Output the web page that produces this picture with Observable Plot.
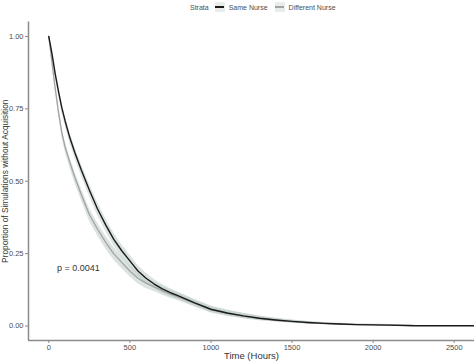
<!DOCTYPE html>
<html>
<head>
<meta charset="utf-8">
<script src="https://cdn.jsdelivr.net/npm/d3@7"></script>
<script src="https://cdn.jsdelivr.net/npm/@observablehq/plot@0.6"></script>
<style>
  body { margin: 0; background: #fff; font-family: "Liberation Sans", Arial, sans-serif; }
  #wrap { width: 474px; }
  #legend { height: 14px; display: flex; align-items: center; justify-content: flex-start; padding-left: 190px; font-size: 7px; color: #4d4d4d; box-sizing: border-box; }
  #legend .key { width: 10px; height: 10px; background: #e8ecea; display: inline-flex; align-items: center; justify-content: center; margin: 0 4px 0 4px; }
  #legend .key span { display: block; width: 9px; height: 2px; }
  svg { display: block; }
</style>
</head>
<body>
<div id="wrap">
  <div id="legend"></div>
  <div id="chart"></div>
</div>
<script>
// ---- data ----
const strata = ["Same Nurse", "Different Nurse"];
const strataColors = ["#1a1a1a", "#a3a3a3"];
const legendTitle = "Strata";
const pValueLabel = "p = 0.0041";
const xLabel = "Time (Hours)";
const yLabel = "Proportion of Simulations without Acquisition";
const xTicks = [0, 500, 1000, 1500, 2000, 2500];
const yTicks = [0, 0.25, 0.5, 0.75, 1];

const timeSame = [0, 20, 40, 60, 80, 100, 130, 160, 200, 250, 300, 350, 400, 450, 500, 550, 600, 650, 700, 750, 800, 900, 1000, 1100, 1200, 1300, 1400, 1500, 1600, 1700, 1800, 1900, 2000, 2100, 2250, 2625];
const survSame = [1.00, 0.94, 0.87, 0.81, 0.755, 0.71, 0.65, 0.60, 0.54, 0.47, 0.405, 0.35, 0.30, 0.26, 0.225, 0.19, 0.165, 0.145, 0.128, 0.115, 0.104, 0.08, 0.058, 0.045, 0.035, 0.027, 0.021, 0.016, 0.012, 0.009, 0.007, 0.005, 0.004, 0.003, 0.001, 0.001];
const ciSame = [0, 0.008, 0.01, 0.013, 0.015, 0.016, 0.018, 0.019, 0.02, 0.021, 0.022, 0.022, 0.022, 0.021, 0.02, 0.019, 0.018, 0.016, 0.015, 0.014, 0.013, 0.012, 0.011, 0.01, 0.009, 0.008, 0.006, 0.005, 0.004, 0.003, 0.003, 0.002, 0.002, 0.002, 0.001, 0.001];

const timeDiff = [0, 20, 40, 60, 80, 100, 130, 160, 200, 250, 300, 350, 400, 450, 500, 550, 600, 650, 700, 750, 800, 900, 1000, 1100, 1200, 1300, 1400, 1500, 1600, 1700, 1800, 1900, 2000, 2100, 2250];
const survDiff = [1.00, 0.91, 0.82, 0.74, 0.67, 0.62, 0.565, 0.515, 0.455, 0.385, 0.335, 0.29, 0.25, 0.22, 0.19, 0.165, 0.148, 0.135, 0.122, 0.11, 0.10, 0.078, 0.056, 0.044, 0.034, 0.026, 0.02, 0.015, 0.011, 0.008, 0.006, 0.005, 0.004, 0.003, 0.002];
const ciDiff = [0, 0.008, 0.01, 0.013, 0.015, 0.016, 0.018, 0.019, 0.02, 0.021, 0.022, 0.022, 0.022, 0.021, 0.02, 0.019, 0.018, 0.016, 0.015, 0.014, 0.013, 0.012, 0.011, 0.01, 0.009, 0.008, 0.006, 0.005, 0.004, 0.003, 0.003, 0.002, 0.002, 0.002, 0.001];

// ---- build tables ----
const rows = [];
timeSame.forEach((t, i) => rows.push({strata: strata[0], time: t, surv: survSame[i], lo: survSame[i] - ciSame[i], hi: survSame[i] + ciSame[i]}));
timeDiff.forEach((t, i) => rows.push({strata: strata[1], time: t, surv: survDiff[i], lo: survDiff[i] - ciDiff[i], hi: survDiff[i] + ciDiff[i]}));

// legend (HTML)
const leg = document.getElementById("legend");
leg.innerHTML = `<span style="margin-right:2px">${legendTitle}</span>` + strata.map((s, i) =>
  `<span class="key"><span style="background:${strataColors[i]}"></span></span><span style="margin-right:3px">${s}</span>`).join("");

const xDomain = [-125, 2625];
const yDomain = [-0.05, 1.05];
const axisColor = "#8c8c8c";
const textColor = "#4d4d4d";

const chart = Plot.plot({
  width: 474,
  height: 347,
  marginLeft: 28,
  marginRight: 0,
  marginTop: 7.5,
  marginBottom: 21,
  style: {fontFamily: "Liberation Sans, Arial, sans-serif", background: "#fff", overflow: "visible"},
  x: {domain: xDomain},
  y: {domain: yDomain},
  color: {domain: strata, range: strataColors},
  marks: [
    Plot.areaY(rows, {x: "time", y1: "lo", y2: "hi", z: "strata", fill: "#b8c8c2", fillOpacity: 0.5}),
    Plot.lineY(rows.filter(d => d.strata === strata[1]), {x: "time", y: "surv", stroke: strataColors[1], strokeWidth: 1.3}),
    Plot.lineY(rows.filter(d => d.strata === strata[0]), {x: "time", y: "surv", stroke: strataColors[0], strokeWidth: 1.4}),
    Plot.text([pValueLabel], {x: 50, y: 0.2, text: d => d, textAnchor: "start", fontSize: 9, fill: "#333"}),
    Plot.ruleX([xDomain[0]], {stroke: axisColor, strokeWidth: 1.5}),
    Plot.ruleY([yDomain[0]], {stroke: axisColor, strokeWidth: 1.5}),
    Plot.axisY(yTicks, {tickFormat: d3.format(".2f"), tickSize: 3, tickPadding: 2, fontSize: 7.5, color: textColor, stroke: axisColor, label: null}),
    Plot.axisX(xTicks, {tickFormat: d => String(d), tickSize: 3, tickPadding: 1, fontSize: 7.5, color: textColor, stroke: axisColor, label: null}),
    Plot.text([yLabel], {frameAnchor: "left", text: d => d, rotate: -90, textAnchor: "middle", dx: -23, fontSize: 8.3, fill: "#333"}),
    Plot.text([xLabel], {frameAnchor: "bottom", text: d => d, dy: 18, fontSize: 9.5, fill: "#333"})
  ]
});
document.getElementById("chart").appendChild(chart);
</script>
</body>
</html>
